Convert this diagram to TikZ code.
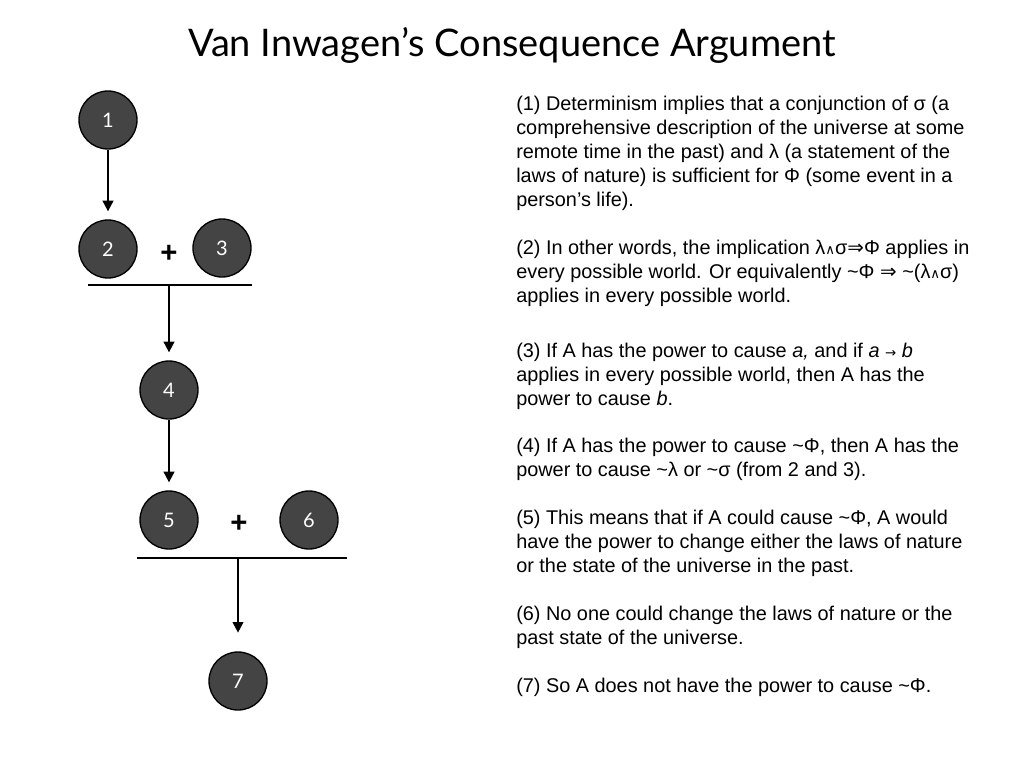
\documentclass[tikz,border=0pt]{standalone}
\usepackage{fontspec}
\setmainfont{Liberation Sans}
\newfontfamily\titlefont{Lato}
\newfontfamily\symf{DejaVu Sans}
\usetikzlibrary{arrows.meta}
\begin{document}
\begin{tikzpicture}[x=0.75pt,y=-0.75pt,
  num/.style={circle,draw=black,line width=1pt,fill={rgb,255:red,68;green,68;blue,68},minimum size=43.5pt,inner sep=0pt,text=white,font=\titlefont\fontsize{15}{15}\selectfont},
  plus/.style={font=\bfseries\fontsize{22}{22}\selectfont},
  bar/.style={line width=2pt},
  arr/.style={line width=1.5pt,-{Triangle[length=8pt,width=8pt]}},
  para/.style={anchor=north west,align=left,inner sep=0pt,font=\fontsize{14.9}{18}\selectfont}]
\useasboundingbox (0,0) rectangle (1024,768);
\node (title) at (512,45) {\titlefont\fontsize{28.5}{28.5}\selectfont Van Inwagen’s Consequence Argument};
\node[num] (n1) at (108,120) {1};
\node[num] (n2) at (108,249) {2};
\node[plus] (p1) at (169,254) {+};
\node[num] (n3) at (222,248) {3};
\node[num] (n4) at (169,390) {4};
\node[num] (n5) at (169,520) {5};
\node[plus] (p2) at (239,524) {+};
\node[num] (n6) at (309,520) {6};
\node[num] (n7) at (238,681) {7};
\coordinate (b1l) at (88,285); \coordinate (b1r) at (252,285); \coordinate (b1m) at (169,285);
\coordinate (b2l) at (137,558); \coordinate (b2r) at (347,558); \coordinate (b2m) at (238,558);
\draw[bar] (b1l) -- (b1r);
\draw[bar] (b2l) -- (b2r);
\draw[arr] (n1) -- ([yshift=6]n2.north);
\draw[arr] (b1m) -- ([yshift=6]n4.north);
\draw[arr] (n4.south) -- ([yshift=6]n5.north);
\draw[arr] (b2m) -- ([yshift=14]n7.north);
\node[para] (t1) at (516,96) {(1) Determinism implies that a conjunction of σ (a\\comprehensive description of the universe at some\\remote time in the past) and λ (a statement of the\\laws of nature) is sufficient for Φ (some event in a\\person’s life).};
\node[para] (t2) at (516,240) {(2) In other words, the implication λ{\symf\fontsize{10}{10}\selectfont ∧}σ{\symf ⇒}Φ applies in\\every possible world. Or equivalently \textasciitilde Φ {\symf ⇒} \textasciitilde(λ{\symf\fontsize{10}{10}\selectfont ∧}σ)\\applies in every possible world.};
\node[para] (t3) at (516,343) {(3) If A has the power to cause \emph{a,} and if \emph{a} {\symf\fontsize{10}{10}\selectfont →} \emph{b}\\applies in every possible world, then A has the\\power to cause \emph{b}.};
\node[para] (t4) at (516,438) {(4) If A has the power to cause \textasciitilde Φ, then A has the\\power to cause \textasciitilde λ or \textasciitilde σ (from 2 and 3).};
\node[para] (t5) at (516,510) {(5) This means that if A could cause \textasciitilde Φ, A would\\have the power to change either the laws of nature\\or the state of the universe in the past.};
\node[para] (t6) at (516,606) {(6) No one could change the laws of nature or the\\past state of the universe.};
\node[para] (t7) at (516,678) {(7) So A does not have the power to cause \textasciitilde Φ.};
\end{tikzpicture}
\end{document}
